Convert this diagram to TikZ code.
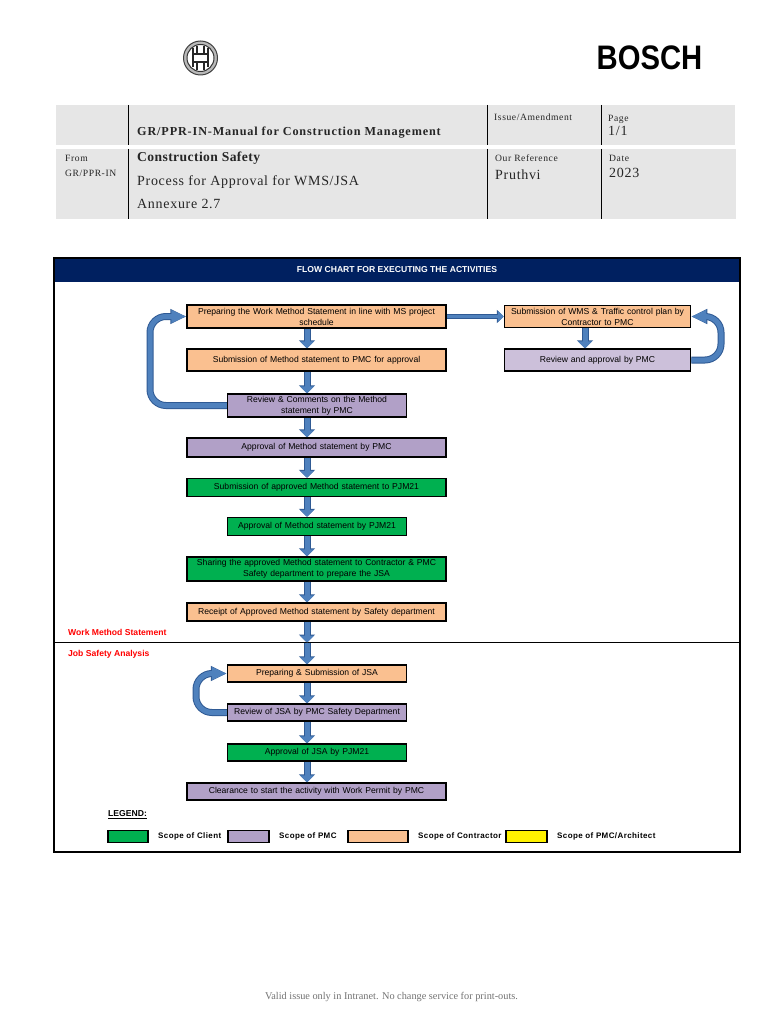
\documentclass[tikz,border=0pt]{standalone}
\usepackage{fontspec}
\setmainfont{Liberation Serif}
\setsansfont{Liberation Sans}
\usetikzlibrary{calc,arrows.meta}

\definecolor{headnavy}{HTML}{002060}
\definecolor{tablegray}{HTML}{E6E6E6}
\definecolor{scopeclient}{HTML}{00B050}
\definecolor{scopepmc}{HTML}{B1A0C7}
\definecolor{scopelight}{HTML}{CCC0DA}
\definecolor{scopecontractor}{HTML}{FAC090}
\definecolor{arrowfill}{HTML}{4F81BD}
\definecolor{arrowedge}{HTML}{2F5A94}

\tikzset{
  stepbox/.style={draw=black,line width=1.5pt,align=center,inner sep=0pt,
    font=\sffamily\fontsize{8.6}{11}\selectfont},
  wide/.style={stepbox,minimum width=259pt,text width=255pt},
  narrow/.style={stepbox,minimum width=179pt,text width=176pt},
  side/.style={stepbox,minimum width=186pt,text width=182pt,minimum height=22pt},
  swatch/.style={draw=black,line width=1.5pt},
  flowarrow/.style={line width=5pt,draw=arrowfill,-{Triangle[width=14pt,length=7pt,fill=arrowfill]},
    preaction={draw=arrowedge,line width=7pt,-{Triangle[width=16pt,length=8pt,fill=arrowedge]}}},
  looparrow/.style={rounded corners=16pt,line width=5pt,draw=arrowfill,-{Triangle[width=12pt,length=15pt,fill=arrowfill]},
    preaction={draw=arrowedge,line width=7pt,-{Triangle[width=14pt,length=16pt,fill=arrowedge]}}},
  thinarrow/.style={line width=2.6pt,draw=arrowfill,-{Triangle[width=11pt,length=6pt,fill=arrowfill]},
    preaction={draw=arrowedge,line width=4.4pt,-{Triangle[width=13pt,length=7pt,fill=arrowedge]}}},
  tabletext/.style={anchor=base west,inner sep=0pt,text=black!85,
    font=\fontsize{9.6}{11}\selectfont\addfontfeature{LetterSpace=6}},
  tablebig/.style={anchor=base west,inner sep=0pt,text=black!85,
    font=\fontsize{14}{16}\selectfont\addfontfeature{LetterSpace=5}},
  legendtext/.style={anchor=west,inner sep=0pt,
    font=\sffamily\bfseries\fontsize{8}{10}\selectfont\addfontfeature{LetterSpace=5}},
  redtext/.style={anchor=west,inner sep=0pt,text=red,font=\sffamily\bfseries\fontsize{8.6}{10}\selectfont}
}

\begin{document}
\begin{tikzpicture}[x=1pt,y=-1pt]
  \useasboundingbox[fill=white] (0,0) rectangle (768,1024);

  % Logos
  \draw[black!75,fill=gray!55,line width=1pt] (200.5,58) circle (17);
  \draw[black!80,fill=white,line width=1pt] (200.5,58) circle (13.5);
  \draw[black!85,line width=1.8pt] (193,48.5) -- (193,67.5) (208,48.5) -- (208,67.5);
  \draw[black!85,line width=1.3pt] (193,54) rectangle (208,62);
  \draw[black!85,line width=1.3pt] (197,46) -- (197,54) (204,46) -- (204,54) (197,62) -- (197,70) (204,62) -- (204,70);
  \node[inner sep=0pt] (brand) at (649.5,58) {\sffamily\bfseries\fontsize{34}{36}\selectfont\scalebox{0.86}[1]{BOSCH}};

  % Document table
  \fill[tablegray] (56,105) rectangle (735,145);
  \fill[tablegray] (56,149) rectangle (736,219);
  \foreach \x in {128,487,601} {
    \draw[line width=1pt] (\x,105) -- (\x,145);
    \draw[line width=1pt] (\x,149) -- (\x,219);
  }
  \node[tabletext,font=\bfseries\fontsize{12.2}{14}\selectfont\addfontfeature{LetterSpace=7}] (manual) at (137,136) {GR/PPR-IN-Manual for Construction Management};
  \node[tabletext] (issue) at (494,121) {Issue/Amendment};
  \node[tabletext] (page) at (608,122) {Page};
  \node[tablebig] (pagenum) at (608,136) {1/1};
  \node[tabletext] (from) at (65,162) {From};
  \node[tabletext] (dept) at (65,177) {GR/PPR-IN};
  \node[tablebig,font=\bfseries\fontsize{13.6}{16}\selectfont\addfontfeature{LetterSpace=3}] (safety) at (137,162) {Construction Safety};
  \node[tablebig] (process) at (137,186) {Process for Approval for WMS/JSA};
  \node[tablebig] (annex) at (137,209) {Annexure 2.7};
  \node[tabletext] (ourref) at (495,162) {Our Reference};
  \node[tablebig] (pruthvi) at (495,180) {Pruthvi};
  \node[tabletext] (date) at (609,162) {Date};
  \node[tablebig] (year) at (609,178) {2023};

  % Frame and header
  \fill[headnavy] (54,258) rectangle (740,282);
  \draw[line width=1.5pt] (54,258) rectangle (740,852);
  \draw[line width=1.6pt] (54,642.5) -- (740,642.5);
  \node[text=white,inner sep=0pt,font=\sffamily\bfseries\fontsize{8.6}{10}\selectfont] (title) at (397,270) {FLOW CHART FOR EXECUTING THE ACTIVITIES};

  % Work method statement boxes
  \node[wide,fill=scopecontractor,minimum height=23pt] (prep) at (316.5,316.5) {Preparing the Work Method Statement in line with MS project\\schedule};
  \node[wide,fill=scopecontractor,minimum height=22pt] (subm) at (316.5,360) {Submission of Method statement to PMC for approval};
  \node[narrow,fill=scopepmc,minimum height=23pt] (review) at (317,405.5) {Review \& Comments on the Method\\statement by PMC};
  \node[wide,fill=scopepmc,minimum height=19pt] (appr) at (316.5,447.5) {Approval of Method statement by PMC};
  \node[wide,fill=scopeclient,minimum height=18pt] (submpjm) at (316.5,487.5) {Submission of approved Method statement to PJM21};
  \node[narrow,fill=scopeclient,minimum height=18pt] (apprpjm) at (317,526.5) {Approval of Method statement by PJM21};
  \node[wide,fill=scopeclient,minimum height=24pt] (share) at (316.5,569) {Sharing the approved Method statement to Contractor \& PMC\\Safety department to prepare the JSA};
  \node[wide,fill=scopecontractor,minimum height=18pt] (receipt) at (316.5,612) {Receipt of Approved Method statement by Safety department};

  % Traffic plan boxes
  \node[side,fill=scopecontractor] (wms) at (597.5,316.5) {Submission of WMS \& Traffic control plan by\\Contractor to PMC};
  \node[side,fill=scopelight] (revpmc) at (597.5,360) {Review and approval by PMC};

  % Job safety analysis boxes
  \node[narrow,fill=scopecontractor,minimum height=17pt] (jsa) at (317,673.5) {Preparing \& Submission of JSA};
  \node[narrow,fill=scopepmc,minimum height=17pt] (revjsa) at (317,712.5) {Review of JSA by PMC Safety Department};
  \node[narrow,fill=scopeclient,minimum height=17pt] (apprjsa) at (317,752.5) {Approval of JSA by PJM21};
  \node[wide,fill=scopepmc,minimum height=17pt] (clear) at (316.5,791.5) {Clearance to start the activity with Work Permit by PMC};

  % Arrows
  \foreach \a/\b in {prep/subm,subm/review,review/appr,appr/submpjm,submpjm/apprpjm,apprpjm/share,share/receipt,jsa/revjsa,revjsa/apprjsa,apprjsa/clear} {
    \draw[flowarrow] (307,0 |- \a.south) -- (307,0 |- \b.north);
  }
  \coordinate (split) at (307,642.5);
  \draw[flowarrow] (307,0 |- receipt.south) -- (split);
  \draw[flowarrow] (split) -- (307,0 |- jsa.north);
  \draw[flowarrow] (585,0 |- wms.south) -- (585,0 |- revpmc.north);
  \draw[thinarrow] (prep.east) -- (wms.west);

  % Loops
  \coordinate (loopleft) at (150,316.5);
  \coordinate (loopright) at (721,316.5);
  \coordinate (loopjsa) at (196,673.5);
  \draw[looparrow] (review.west) -| (loopleft) -- (prep.west);
  \draw[looparrow] (revpmc.east) -| (loopright) -- (wms.east);
  \draw[looparrow] (revjsa.west) -| (loopjsa) -- (jsa.west);

  % Section labels
  \node[redtext] (wmslabel) at (68,632) {Work Method Statement};
  \node[redtext] (jsalabel) at (68,654.5) {Job Safety Analysis};

  % Legend
  \node[anchor=west,inner sep=0pt,font=\sffamily\bfseries\fontsize{8.6}{10}\selectfont] (legend) at (108,815) {\underline{LEGEND:}};
  \foreach \name/\x/\w/\col in {client/107/40/scopeclient,pmc/227/41/scopepmc,contractor/347/60/scopecontractor,arch/505/41/yellow} {
    \node[swatch,fill=\col,anchor=west,minimum width=\w pt,minimum height=12pt,inner sep=0pt] (sw\name) at (\x,836.5) {};
  }
  \node[legendtext] (txclient) at (158,836.5) {Scope of Client};
  \node[legendtext] (txpmc) at (279,836.5) {Scope of PMC};
  \node[legendtext] (txcontractor) at (418,836.5) {Scope of Contractor};
  \node[legendtext] (txarch) at (557,836.5) {Scope of PMC/Architect};

  % Footer
  \node[inner sep=0pt,text=black!55,font=\fontsize{10.3}{12}\selectfont] (footer) at (391.5,997) {Valid issue only in Intranet. No change service for print-outs.};
\end{tikzpicture}
\end{document}
